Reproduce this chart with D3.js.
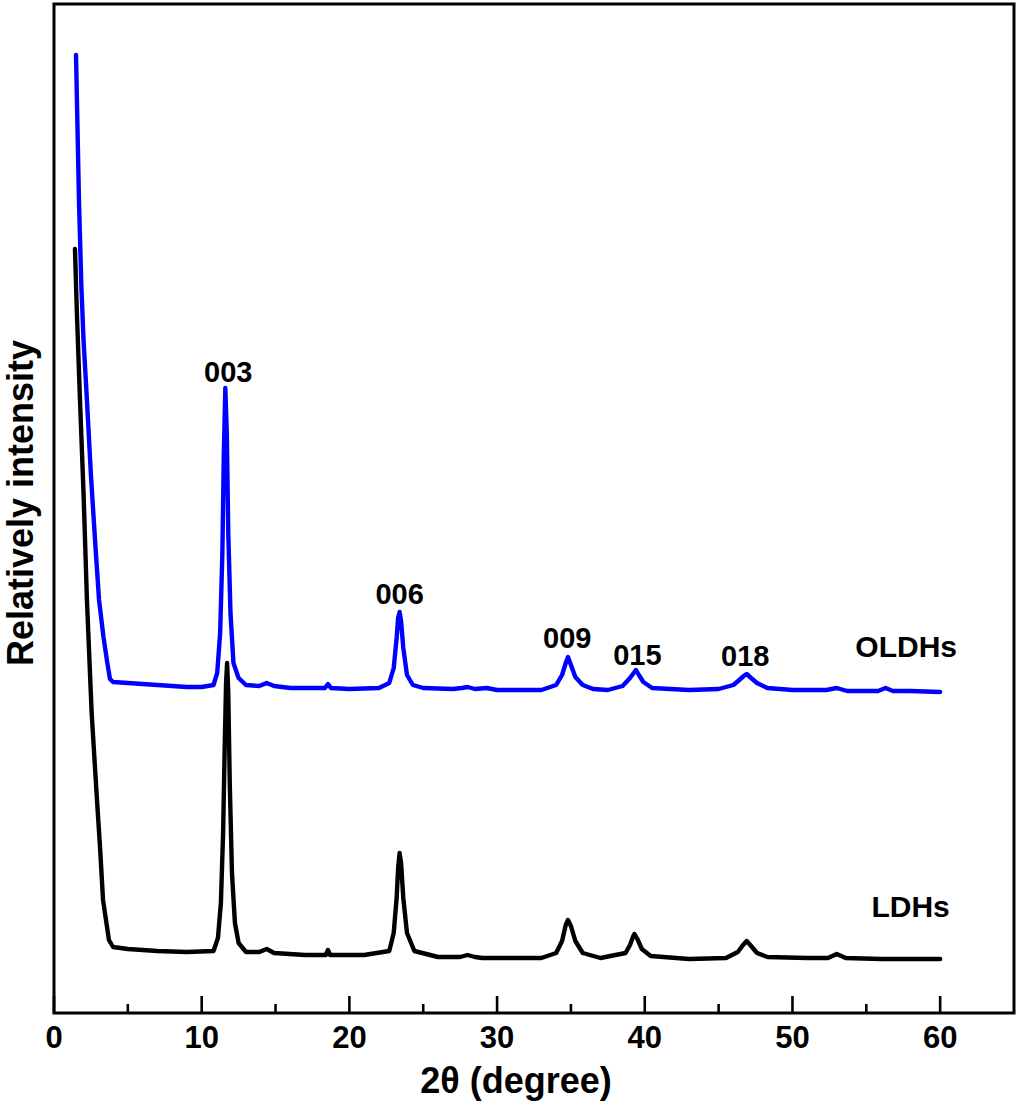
<!DOCTYPE html>
<html>
<head>
<meta charset="utf-8">
<script src="https://cdn.jsdelivr.net/npm/d3@7/dist/d3.min.js"></script>
<style>
  html, body { margin: 0; padding: 0; background: #fff; }
  svg { display: block; }
  text { font-family: "Liberation Sans", Arial, sans-serif; font-weight: bold; fill: #000; }
</style>
</head>
<body>
<svg id="chart" width="1020" height="1105"></svg>
<script>
// ---- Data (2θ in degrees, intensity in arbitrary units) ----
const oldhTheta = [1.49,1.58,1.69,1.85,2.0,2.23,2.5,2.8,3.05,3.35,3.6,3.79,4.0,5,6,7,8,9,10,10.8,11.05,11.25,11.4,11.5,11.6,11.7,11.8,11.95,12.15,12.5,13,13.9,14.4,14.9,16,18.35,18.55,18.75,20,22,22.7,23.0,23.2,23.3,23.4,23.5,23.65,23.9,24.3,25,27,27.6,28,28.5,29.3,30,33,34,34.4,34.65,34.8,35.0,35.3,35.8,36.5,37.5,38.5,39.0,39.25,39.4,39.6,39.9,40.5,43,45,46,46.4,46.7,46.9,47.2,47.6,48.3,50,52.3,53.0,53.7,55,55.8,56.3,56.8,58,60];
const oldhIntensity = [958,893,813,728,673,613,538,468,413,376,351,334,331,330,329,328,327,326,326,328,340,380,460,560,625,580,480,400,350,335,328,327,330,327,325,325,329,325,324,325,330,345,375,395,401,392,365,338,328,325,324,325,326,324,325,323,323,328,338,350,356,348,336,328,324,323,327,335,340,343,338,331,325,323,324,328,333,337,339,335,330,325,323,323,325,322,322,322,325,322,322,321];

const ldhTheta = [1.42,1.55,1.76,2.0,2.23,2.55,2.91,3.1,3.32,3.55,3.72,4.0,5,7,9,10.8,11.1,11.3,11.45,11.55,11.65,11.72,11.8,11.9,12.05,12.25,12.5,13,13.9,14.4,14.9,17,18.4,18.55,18.7,21,22.7,23.0,23.2,23.3,23.4,23.5,23.65,23.9,24.4,26,27.5,28,28.5,29,33,34,34.4,34.65,34.8,35.0,35.3,35.8,37,38.7,39.0,39.2,39.3,39.5,39.8,40.4,43,45.5,46.3,46.6,46.9,47.2,47.6,48.3,51,52.4,53,53.6,56,60];
const ldhIntensity = [764,700,613,520,413,300,213,170,113,90,73,66,64,62,61,62,75,110,180,260,330,350,320,230,140,90,70,61,61,64,60,58,58,63,58,58,62,80,115,145,160,150,115,80,62,56,56,58,56,55,55,60,72,88,93,87,72,60,55,60,68,76,79,74,64,57,54,55,61,67,72,67,60,56,55,55,59,55,54,54];

const xTicks = [0,10,20,30,40,50,60];
const xMinorTicks = [5,15,25,35,45,55];

const peakLabels = ["003","006","009","015","018"];
const peakLabelTheta = [11.8,23.4,34.75,39.5,46.8];
const peakLabelIntensity = [631,409,365,348,347];

const seriesNames = ["OLDHs","LDHs"];
const seriesColors = ["#0000ff","#000000"];
const seriesLabelTheta = [57.7,58.0];
const seriesLabelIntensity = [356,96];

// ---- Layout ----
const svg = d3.select("#chart");
const mLeft = 54, mRight = 1014, mTop = 4, mBottom = 1013;

const x = d3.scaleLinear().domain([0,65]).range([mLeft,mRight]);
const y = d3.scaleLinear().domain([0,1009]).range([mBottom,mTop]);

// Curves
const series = [
  {theta: oldhTheta, inten: oldhIntensity},
  {theta: ldhTheta, inten: ldhIntensity}
];
const line = d3.line().x(d => x(d[0])).y(d => y(d[1]));
series.forEach((s, i) => {
  const pts = s.theta.map((t, j) => [t, s.inten[j]]);
  svg.append("path")
    .attr("d", line(pts))
    .attr("fill", "none")
    .attr("stroke", seriesColors[i])
    .attr("stroke-width", 4.4)
    .attr("stroke-linejoin", "round")
    .attr("stroke-linecap", "round");
});

// Frame
svg.append("rect")
  .attr("x", mLeft).attr("y", mTop)
  .attr("width", mRight-mLeft).attr("height", mBottom-mTop)
  .attr("fill", "none").attr("stroke", "#000").attr("stroke-width", 3);

// X ticks (inside) drawn from the scale
svg.append("g").selectAll("line.major").data(xTicks).join("line")
  .attr("x1", d => x(d)).attr("x2", d => x(d))
  .attr("y1", mBottom).attr("y2", mBottom - 17)
  .attr("stroke", "#000").attr("stroke-width", 2.6);
svg.append("g").selectAll("line.minor").data(xMinorTicks).join("line")
  .attr("x1", d => x(d)).attr("x2", d => x(d))
  .attr("y1", mBottom).attr("y2", mBottom - 9)
  .attr("stroke", "#000").attr("stroke-width", 2.6);
svg.append("g").selectAll("text").data(xTicks).join("text")
  .attr("x", d => x(d)).attr("y", mBottom + 35)
  .attr("text-anchor", "middle")
  .style("font-size", "31px")
  .text(d => d3.format("d")(d));

// Axis titles
svg.append("text")
  .attr("x", 516).attr("y", 1093)
  .attr("text-anchor", "middle")
  .style("font-size", "36px")
  .text("2θ (degree)");

svg.append("text")
  .attr("transform", `translate(33,503) rotate(-90)`)
  .attr("text-anchor", "middle")
  .style("font-size", "36px")
  .text("Relatively intensity");

// Peak labels
peakLabels.forEach((lab, i) => {
  svg.append("text")
    .attr("x", x(peakLabelTheta[i])).attr("y", y(peakLabelIntensity[i]))
    .attr("text-anchor", "middle")
    .style("font-size", "29px")
    .text(lab);
});

// Series labels
seriesNames.forEach((n, i) => {
  svg.append("text")
    .attr("x", x(seriesLabelTheta[i])).attr("y", y(seriesLabelIntensity[i]))
    .attr("text-anchor", "middle")
    .style("font-size", "30px")
    .text(n);
});
</script>
</body>
</html>
